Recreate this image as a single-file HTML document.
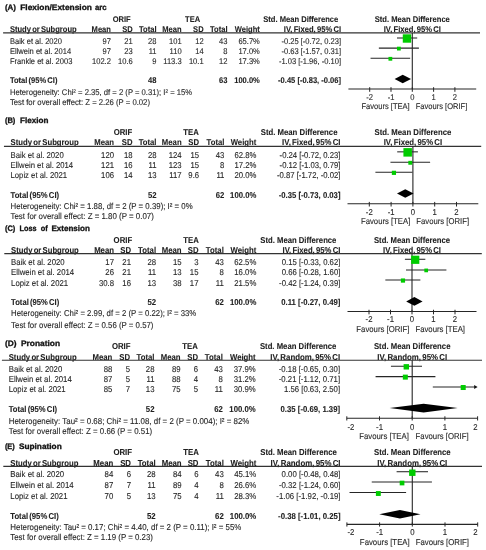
<!DOCTYPE html>
<html lang="en">
<head>
<meta charset="utf-8">
<title>Forest plots: ORIF vs TEA</title>
<style>
html,body{margin:0;padding:0;background:#fff;}
body{width:486px;height:550px;overflow:hidden;}
svg{display:block;font-size:7.55px;}
text{font-family:"Liberation Sans",Arial,Helvetica,sans-serif;fill:#1c1c1c;white-space:pre;text-rendering:geometricPrecision;}
text{fill:#262626;stroke:#262626;stroke-width:0.1px;paint-order:stroke;}
text.b{font-weight:bold;fill:#202020;stroke:#202020;stroke-width:0.08px;word-spacing:-0.9px;}
text.n{word-spacing:0;}
text.t{font-weight:bold;fill:#111;stroke:#111;stroke-width:0.3px;paint-order:stroke;}
</style>
</head>
<body>
<svg width="486" height="550" viewBox="0 0 486 550">
<rect x="0" y="0" width="486" height="550" fill="#ffffff"/>
<g style="font-size:7.55px">
<text y="9.60" class="t" style="font-size:7.9px"><tspan x="4.90" textLength="11.1" lengthAdjust="spacingAndGlyphs">(A)</tspan> <tspan x="20.20" textLength="71.7" lengthAdjust="spacingAndGlyphs">Flexion/Extension</tspan> <tspan x="95.00" textLength="11.7" lengthAdjust="spacingAndGlyphs">arc</tspan></text>
<text transform="matrix(1 0 0 1.1 121.70 21.90)" text-anchor="middle" class="b">ORIF</text>
<text transform="matrix(1 0 0 1.1 192.60 21.90)" text-anchor="middle" class="b">TEA</text>
<text transform="matrix(1 0 0 1.1 263.20 21.90)" class="b n" textLength="75.1" lengthAdjust="spacingAndGlyphs">Std. Mean Difference</text>
<text transform="matrix(1 0 0 1.1 412.30 21.90)" text-anchor="middle" class="b n" textLength="75.1" lengthAdjust="spacingAndGlyphs">Std. Mean Difference</text>
<text transform="matrix(1 0 0 1.1 9.90 32.00)" class="b" textLength="66.8" lengthAdjust="spacingAndGlyphs">Study or Subgroup</text>
<text transform="matrix(1 0 0 1.1 110.90 32.00)" text-anchor="end" class="b">Mean</text>
<text transform="matrix(1 0 0 1.1 132.70 32.00)" text-anchor="end" class="b">SD</text>
<text transform="matrix(1 0 0 1.1 156.50 32.00)" text-anchor="end" class="b">Total</text>
<text transform="matrix(1 0 0 1.1 181.60 32.00)" text-anchor="end" class="b">Mean</text>
<text transform="matrix(1 0 0 1.1 203.60 32.00)" text-anchor="end" class="b">SD</text>
<text transform="matrix(1 0 0 1.1 227.50 32.00)" text-anchor="end" class="b">Total</text>
<text transform="matrix(1 0 0 1.1 259.80 32.00)" text-anchor="end" class="b">Weight</text>
<text transform="matrix(1 0 0 1.1 341.00 32.00)" text-anchor="end" class="b" textLength="57.2" lengthAdjust="spacingAndGlyphs">IV, Fixed, 95% CI</text>
<text transform="matrix(1 0 0 1.1 412.30 32.00)" text-anchor="middle" class="b" textLength="57.2" lengthAdjust="spacingAndGlyphs">IV, Fixed, 95% CI</text>
<line x1="3.10" y1="32.90" x2="480.00" y2="32.90" stroke="#333" stroke-width="1.1"/>
<line x1="412.30" y1="32.90" x2="412.30" y2="89.00" stroke="#262626" stroke-width="1.1"/>
<text transform="matrix(1 0 0 1.1 9.90 43.50)">Baik et al. 2020</text>
<text transform="matrix(1 0 0 1.1 110.90 43.50)" text-anchor="end">97</text>
<text transform="matrix(1 0 0 1.1 132.70 43.50)" text-anchor="end">21</text>
<text transform="matrix(1 0 0 1.1 156.50 43.50)" text-anchor="end">28</text>
<text transform="matrix(1 0 0 1.1 181.60 43.50)" text-anchor="end">101</text>
<text transform="matrix(1 0 0 1.1 203.60 43.50)" text-anchor="end">12</text>
<text transform="matrix(1 0 0 1.1 227.50 43.50)" text-anchor="end">43</text>
<text transform="matrix(1 0 0 1.1 259.80 43.50)" text-anchor="end">65.7%</text>
<text transform="matrix(1 0 0 1.1 341.00 43.50)" text-anchor="end">-0.25 [-0.72, 0.23]</text>
<line x1="396.96" y1="38.00" x2="417.20" y2="38.00" stroke="#262626" stroke-width="1.05"/>
<rect x="402.78" y="34.30" width="8.4" height="8.4" fill="#00cc00"/>
<text transform="matrix(1 0 0 1.1 9.90 54.10)">Ellwein et al. 2014</text>
<text transform="matrix(1 0 0 1.1 110.90 54.10)" text-anchor="end">97</text>
<text transform="matrix(1 0 0 1.1 132.70 54.10)" text-anchor="end">23</text>
<text transform="matrix(1 0 0 1.1 156.50 54.10)" text-anchor="end">11</text>
<text transform="matrix(1 0 0 1.1 181.60 54.10)" text-anchor="end">110</text>
<text transform="matrix(1 0 0 1.1 203.60 54.10)" text-anchor="end">14</text>
<text transform="matrix(1 0 0 1.1 227.50 54.10)" text-anchor="end">8</text>
<text transform="matrix(1 0 0 1.1 259.80 54.10)" text-anchor="end">17.0%</text>
<text transform="matrix(1 0 0 1.1 341.00 54.10)" text-anchor="end">-0.63 [-1.57, 0.31]</text>
<line x1="378.86" y1="48.10" x2="418.90" y2="48.10" stroke="#262626" stroke-width="1.05"/>
<rect x="396.98" y="46.70" width="3.8" height="3.8" fill="#00cc00"/>
<text transform="matrix(1 0 0 1.1 9.90 64.30)">Frankle et al. 2003</text>
<text transform="matrix(1 0 0 1.1 110.90 64.30)" text-anchor="end">102.2</text>
<text transform="matrix(1 0 0 1.1 132.70 64.30)" text-anchor="end">10.6</text>
<text transform="matrix(1 0 0 1.1 156.50 64.30)" text-anchor="end">9</text>
<text transform="matrix(1 0 0 1.1 181.60 64.30)" text-anchor="end">113.3</text>
<text transform="matrix(1 0 0 1.1 203.60 64.30)" text-anchor="end">10.1</text>
<text transform="matrix(1 0 0 1.1 227.50 64.30)" text-anchor="end">12</text>
<text transform="matrix(1 0 0 1.1 259.80 64.30)" text-anchor="end">17.3%</text>
<text transform="matrix(1 0 0 1.1 341.00 64.30)" text-anchor="end">-1.03 [-1.96, -0.10]</text>
<line x1="370.55" y1="58.30" x2="410.17" y2="58.30" stroke="#262626" stroke-width="1.05"/>
<rect x="388.46" y="56.90" width="3.8" height="3.8" fill="#00cc00"/>
<text transform="matrix(1 0 0 1.1 9.90 83.20)" class="b" textLength="47.5" lengthAdjust="spacingAndGlyphs">Total (95% CI)</text>
<text transform="matrix(1 0 0 1.1 156.50 83.20)" text-anchor="end" class="b n">48</text>
<text transform="matrix(1 0 0 1.1 227.50 83.20)" text-anchor="end" class="b n">63</text>
<text transform="matrix(1 0 0 1.1 259.80 83.20)" text-anchor="end" class="b n">100.0%</text>
<text transform="matrix(1 0 0 1.1 341.00 83.20)" text-anchor="end" class="b n">-0.45 [-0.83, -0.06]</text>
<text transform="matrix(1 0 0 1.1 9.90 94.60)" textLength="182.2" lengthAdjust="spacingAndGlyphs">Heterogeneity: Chi² = 2.35, df = 2 (P = 0.31); I² = 15%</text>
<text transform="matrix(1 0 0 1.1 9.90 105.40)" textLength="140.1" lengthAdjust="spacingAndGlyphs">Test for overall effect: Z = 2.26 (P = 0.02)</text>
<polygon points="394.62,79.00 402.72,74.70 411.02,79.00 402.72,83.30" fill="#000"/>
<line x1="348.40" y1="89.00" x2="476.20" y2="89.00" stroke="#262626" stroke-width="1.05"/>
<line x1="369.70" y1="87.20" x2="369.70" y2="91.80" stroke="#262626" stroke-width="1.0"/>
<text transform="matrix(1 0 0 1.1 369.70 99.80)" text-anchor="middle">-2</text>
<line x1="391.00" y1="87.20" x2="391.00" y2="91.80" stroke="#262626" stroke-width="1.0"/>
<text transform="matrix(1 0 0 1.1 391.00 99.80)" text-anchor="middle">-1</text>
<line x1="412.30" y1="87.20" x2="412.30" y2="91.80" stroke="#262626" stroke-width="1.0"/>
<text transform="matrix(1 0 0 1.1 412.30 99.80)" text-anchor="middle">0</text>
<line x1="433.60" y1="87.20" x2="433.60" y2="91.80" stroke="#262626" stroke-width="1.0"/>
<text transform="matrix(1 0 0 1.1 433.60 99.80)" text-anchor="middle">1</text>
<line x1="454.90" y1="87.20" x2="454.90" y2="91.80" stroke="#262626" stroke-width="1.0"/>
<text transform="matrix(1 0 0 1.1 454.90 99.80)" text-anchor="middle">2</text>
<text transform="matrix(1 0 0 1.1 409.70 108.70)" text-anchor="end">Favours [TEA]</text>
<text transform="matrix(1 0 0 1.1 415.70 108.70)">Favours [ORIF]</text>
</g>
<g style="font-size:7.724px">
<text y="122.70" class="t" style="font-size:7.9px"><tspan x="4.90" textLength="10.5" lengthAdjust="spacingAndGlyphs">(B)</tspan> <tspan x="20.00" textLength="28.4" lengthAdjust="spacingAndGlyphs">Flexion</tspan></text>
<text transform="matrix(1 0 0 1.1 122.90 134.70)" text-anchor="middle" class="b">ORIF</text>
<text transform="matrix(1 0 0 1.1 191.00 134.70)" text-anchor="middle" class="b">TEA</text>
<text transform="matrix(1 0 0 1.1 260.70 134.70)" class="b n" textLength="76.8" lengthAdjust="spacingAndGlyphs">Std. Mean Difference</text>
<text transform="matrix(1 0 0 1.1 412.90 134.70)" text-anchor="middle" class="b n" textLength="76.8" lengthAdjust="spacingAndGlyphs">Std. Mean Difference</text>
<text transform="matrix(1 0 0 1.1 10.50 145.40)" class="b" textLength="68.3" lengthAdjust="spacingAndGlyphs">Study or Subgroup</text>
<text transform="matrix(1 0 0 1.1 114.00 145.40)" text-anchor="end" class="b">Mean</text>
<text transform="matrix(1 0 0 1.1 132.50 145.40)" text-anchor="end" class="b">SD</text>
<text transform="matrix(1 0 0 1.1 156.50 145.40)" text-anchor="end" class="b">Total</text>
<text transform="matrix(1 0 0 1.1 181.60 145.40)" text-anchor="end" class="b">Mean</text>
<text transform="matrix(1 0 0 1.1 199.10 145.40)" text-anchor="end" class="b">SD</text>
<text transform="matrix(1 0 0 1.1 224.40 145.40)" text-anchor="end" class="b">Total</text>
<text transform="matrix(1 0 0 1.1 256.30 145.40)" text-anchor="end" class="b">Weight</text>
<text transform="matrix(1 0 0 1.1 340.50 145.40)" text-anchor="end" class="b" textLength="58.5" lengthAdjust="spacingAndGlyphs">IV, Fixed, 95% CI</text>
<text transform="matrix(1 0 0 1.1 412.90 145.40)" text-anchor="middle" class="b" textLength="58.5" lengthAdjust="spacingAndGlyphs">IV, Fixed, 95% CI</text>
<line x1="3.95" y1="146.40" x2="481.20" y2="146.40" stroke="#333" stroke-width="1.1"/>
<line x1="412.90" y1="146.40" x2="412.90" y2="203.72" stroke="#262626" stroke-width="1.1"/>
<text transform="matrix(1 0 0 1.1 10.50 157.50)">Baik et al. 2020</text>
<text transform="matrix(1 0 0 1.1 114.00 157.50)" text-anchor="end">120</text>
<text transform="matrix(1 0 0 1.1 132.50 157.50)" text-anchor="end">18</text>
<text transform="matrix(1 0 0 1.1 156.50 157.50)" text-anchor="end">28</text>
<text transform="matrix(1 0 0 1.1 181.60 157.50)" text-anchor="end">124</text>
<text transform="matrix(1 0 0 1.1 199.10 157.50)" text-anchor="end">15</text>
<text transform="matrix(1 0 0 1.1 224.40 157.50)" text-anchor="end">43</text>
<text transform="matrix(1 0 0 1.1 256.30 157.50)" text-anchor="end">62.8%</text>
<text transform="matrix(1 0 0 1.1 340.50 157.50)" text-anchor="end">-0.24 [-0.72, 0.23]</text>
<line x1="397.20" y1="151.85" x2="417.91" y2="151.85" stroke="#262626" stroke-width="1.05"/>
<rect x="403.42" y="148.10" width="8.5" height="8.5" fill="#00cc00"/>
<text transform="matrix(1 0 0 1.1 10.50 168.00)">Ellwein et al. 2014</text>
<text transform="matrix(1 0 0 1.1 114.00 168.00)" text-anchor="end">121</text>
<text transform="matrix(1 0 0 1.1 132.50 168.00)" text-anchor="end">16</text>
<text transform="matrix(1 0 0 1.1 156.50 168.00)" text-anchor="end">11</text>
<text transform="matrix(1 0 0 1.1 181.60 168.00)" text-anchor="end">123</text>
<text transform="matrix(1 0 0 1.1 199.10 168.00)" text-anchor="end">15</text>
<text transform="matrix(1 0 0 1.1 224.40 168.00)" text-anchor="end">8</text>
<text transform="matrix(1 0 0 1.1 256.30 168.00)" text-anchor="end">17.2%</text>
<text transform="matrix(1 0 0 1.1 340.50 168.00)" text-anchor="end">-0.12 [-1.03, 0.79]</text>
<line x1="390.45" y1="162.28" x2="430.12" y2="162.28" stroke="#262626" stroke-width="1.05"/>
<rect x="408.33" y="160.83" width="3.9" height="3.9" fill="#00cc00"/>
<text transform="matrix(1 0 0 1.1 10.50 178.30)">Lopiz et al. 2021</text>
<text transform="matrix(1 0 0 1.1 114.00 178.30)" text-anchor="end">106</text>
<text transform="matrix(1 0 0 1.1 132.50 178.30)" text-anchor="end">14</text>
<text transform="matrix(1 0 0 1.1 156.50 178.30)" text-anchor="end">13</text>
<text transform="matrix(1 0 0 1.1 181.60 178.30)" text-anchor="end">117</text>
<text transform="matrix(1 0 0 1.1 199.10 178.30)" text-anchor="end">9.6</text>
<text transform="matrix(1 0 0 1.1 224.40 178.30)" text-anchor="end">11</text>
<text transform="matrix(1 0 0 1.1 256.30 178.30)" text-anchor="end">20.0%</text>
<text transform="matrix(1 0 0 1.1 340.50 178.30)" text-anchor="end">-0.87 [-1.72, -0.02]</text>
<line x1="375.40" y1="172.32" x2="412.46" y2="172.32" stroke="#262626" stroke-width="1.05"/>
<rect x="391.83" y="170.72" width="4.2" height="4.2" fill="#00cc00"/>
<text transform="matrix(1 0 0 1.1 10.50 198.10)" class="b" textLength="48.6" lengthAdjust="spacingAndGlyphs">Total (95% CI)</text>
<text transform="matrix(1 0 0 1.1 156.50 198.10)" text-anchor="end" class="b n">52</text>
<text transform="matrix(1 0 0 1.1 224.40 198.10)" text-anchor="end" class="b n">62</text>
<text transform="matrix(1 0 0 1.1 256.30 198.10)" text-anchor="end" class="b n">100.0%</text>
<text transform="matrix(1 0 0 1.1 340.50 198.10)" text-anchor="end" class="b n">-0.35 [-0.73, 0.03]</text>
<text transform="matrix(1 0 0 1.1 10.50 209.20)" textLength="182.2" lengthAdjust="spacingAndGlyphs">Heterogeneity: Chi² = 1.88, df = 2 (P = 0.39); I² = 0%</text>
<text transform="matrix(1 0 0 1.1 10.50 219.30)" textLength="143.3" lengthAdjust="spacingAndGlyphs">Test for overall effect: Z = 1.80 (P = 0.07)</text>
<polygon points="396.99,193.49 405.27,189.19 413.55,193.49 405.27,197.79" fill="#000"/>
<line x1="347.50" y1="203.72" x2="478.30" y2="203.72" stroke="#262626" stroke-width="1.05"/>
<line x1="369.30" y1="201.92" x2="369.30" y2="206.52" stroke="#262626" stroke-width="1.0"/>
<text transform="matrix(1 0 0 1.1 369.30 214.77)" text-anchor="middle">-2</text>
<line x1="391.10" y1="201.92" x2="391.10" y2="206.52" stroke="#262626" stroke-width="1.0"/>
<text transform="matrix(1 0 0 1.1 391.10 214.77)" text-anchor="middle">-1</text>
<line x1="412.90" y1="201.92" x2="412.90" y2="206.52" stroke="#262626" stroke-width="1.0"/>
<text transform="matrix(1 0 0 1.1 412.90 214.77)" text-anchor="middle">0</text>
<line x1="434.70" y1="201.92" x2="434.70" y2="206.52" stroke="#262626" stroke-width="1.0"/>
<text transform="matrix(1 0 0 1.1 434.70 214.77)" text-anchor="middle">1</text>
<line x1="456.50" y1="201.92" x2="456.50" y2="206.52" stroke="#262626" stroke-width="1.0"/>
<text transform="matrix(1 0 0 1.1 456.50 214.77)" text-anchor="middle">2</text>
<text transform="matrix(1 0 0 1.1 410.30 223.88)" text-anchor="end">Favours [TEA]</text>
<text transform="matrix(1 0 0 1.1 416.30 223.88)">Favours [ORIF]</text>
</g>
<g style="font-size:7.777px">
<text y="231.40" class="t" style="font-size:7.9px"><tspan x="4.90" textLength="10.5" lengthAdjust="spacingAndGlyphs">(C)</tspan> <tspan x="19.60" textLength="17.0" lengthAdjust="spacingAndGlyphs">Loss</tspan> <tspan x="40.70" textLength="7.0" lengthAdjust="spacingAndGlyphs">of</tspan> <tspan x="51.40" textLength="38.5" lengthAdjust="spacingAndGlyphs">Extension</tspan></text>
<text transform="matrix(1 0 0 1.1 122.90 242.90)" text-anchor="middle" class="b">ORIF</text>
<text transform="matrix(1 0 0 1.1 191.00 242.90)" text-anchor="middle" class="b">TEA</text>
<text transform="matrix(1 0 0 1.1 260.30 242.90)" class="b n" textLength="76.1" lengthAdjust="spacingAndGlyphs">Std. Mean Difference</text>
<text transform="matrix(1 0 0 1.1 412.00 242.90)" text-anchor="middle" class="b n" textLength="76.1" lengthAdjust="spacingAndGlyphs">Std. Mean Difference</text>
<text transform="matrix(1 0 0 1.1 11.10 253.20)" class="b" textLength="67.7" lengthAdjust="spacingAndGlyphs">Study or Subgroup</text>
<text transform="matrix(1 0 0 1.1 114.00 253.20)" text-anchor="end" class="b">Mean</text>
<text transform="matrix(1 0 0 1.1 131.00 253.20)" text-anchor="end" class="b">SD</text>
<text transform="matrix(1 0 0 1.1 156.10 253.20)" text-anchor="end" class="b">Total</text>
<text transform="matrix(1 0 0 1.1 181.60 253.20)" text-anchor="end" class="b">Mean</text>
<text transform="matrix(1 0 0 1.1 198.50 253.20)" text-anchor="end" class="b">SD</text>
<text transform="matrix(1 0 0 1.1 223.80 253.20)" text-anchor="end" class="b">Total</text>
<text transform="matrix(1 0 0 1.1 256.30 253.20)" text-anchor="end" class="b">Weight</text>
<text transform="matrix(1 0 0 1.1 340.40 253.20)" text-anchor="end" class="b" textLength="57.9" lengthAdjust="spacingAndGlyphs">IV, Fixed, 95% CI</text>
<text transform="matrix(1 0 0 1.1 412.00 253.20)" text-anchor="middle" class="b" textLength="57.9" lengthAdjust="spacingAndGlyphs">IV, Fixed, 95% CI</text>
<line x1="4.30" y1="253.60" x2="481.80" y2="253.60" stroke="#333" stroke-width="1.1"/>
<line x1="412.00" y1="253.60" x2="412.00" y2="311.55" stroke="#262626" stroke-width="1.1"/>
<text transform="matrix(1 0 0 1.1 11.10 264.50)">Baik et al. 2020</text>
<text transform="matrix(1 0 0 1.1 114.00 264.50)" text-anchor="end">17</text>
<text transform="matrix(1 0 0 1.1 131.00 264.50)" text-anchor="end">21</text>
<text transform="matrix(1 0 0 1.1 156.10 264.50)" text-anchor="end">28</text>
<text transform="matrix(1 0 0 1.1 181.60 264.50)" text-anchor="end">15</text>
<text transform="matrix(1 0 0 1.1 198.50 264.50)" text-anchor="end">3</text>
<text transform="matrix(1 0 0 1.1 223.80 264.50)" text-anchor="end">43</text>
<text transform="matrix(1 0 0 1.1 256.30 264.50)" text-anchor="end">62.5%</text>
<text transform="matrix(1 0 0 1.1 340.40 264.50)" text-anchor="end">0.15 [-0.33, 0.62]</text>
<line x1="404.90" y1="259.28" x2="425.33" y2="259.28" stroke="#262626" stroke-width="1.05"/>
<rect x="411.12" y="255.68" width="8.2" height="8.2" fill="#00cc00"/>
<text transform="matrix(1 0 0 1.1 11.10 275.00)">Ellwein et al. 2014</text>
<text transform="matrix(1 0 0 1.1 114.00 275.00)" text-anchor="end">26</text>
<text transform="matrix(1 0 0 1.1 131.00 275.00)" text-anchor="end">21</text>
<text transform="matrix(1 0 0 1.1 156.10 275.00)" text-anchor="end">11</text>
<text transform="matrix(1 0 0 1.1 181.60 275.00)" text-anchor="end">13</text>
<text transform="matrix(1 0 0 1.1 198.50 275.00)" text-anchor="end">15</text>
<text transform="matrix(1 0 0 1.1 223.80 275.00)" text-anchor="end">8</text>
<text transform="matrix(1 0 0 1.1 256.30 275.00)" text-anchor="end">16.0%</text>
<text transform="matrix(1 0 0 1.1 340.40 275.00)" text-anchor="end">0.66 [-0.28, 1.60]</text>
<line x1="405.98" y1="269.92" x2="446.40" y2="269.92" stroke="#262626" stroke-width="1.05"/>
<rect x="424.34" y="268.57" width="3.7" height="3.7" fill="#00cc00"/>
<text transform="matrix(1 0 0 1.1 11.10 285.70)">Lopiz et al. 2021</text>
<text transform="matrix(1 0 0 1.1 114.00 285.70)" text-anchor="end">30.8</text>
<text transform="matrix(1 0 0 1.1 131.00 285.70)" text-anchor="end">16</text>
<text transform="matrix(1 0 0 1.1 156.10 285.70)" text-anchor="end">13</text>
<text transform="matrix(1 0 0 1.1 181.60 285.70)" text-anchor="end">38</text>
<text transform="matrix(1 0 0 1.1 198.50 285.70)" text-anchor="end">17</text>
<text transform="matrix(1 0 0 1.1 223.80 285.70)" text-anchor="end">11</text>
<text transform="matrix(1 0 0 1.1 256.30 285.70)" text-anchor="end">21.5%</text>
<text transform="matrix(1 0 0 1.1 340.40 285.70)" text-anchor="end">-0.42 [-1.24, 0.39]</text>
<line x1="385.34" y1="280.05" x2="420.38" y2="280.05" stroke="#262626" stroke-width="1.05"/>
<rect x="400.87" y="278.45" width="4.2" height="4.2" fill="#00cc00"/>
<text transform="matrix(1 0 0 1.1 11.10 304.80)" class="b" textLength="48.1" lengthAdjust="spacingAndGlyphs">Total (95% CI)</text>
<text transform="matrix(1 0 0 1.1 156.10 304.80)" text-anchor="end" class="b n">52</text>
<text transform="matrix(1 0 0 1.1 223.80 304.80)" text-anchor="end" class="b n">62</text>
<text transform="matrix(1 0 0 1.1 256.30 304.80)" text-anchor="end" class="b n">100.0%</text>
<text transform="matrix(1 0 0 1.1 340.40 304.80)" text-anchor="end" class="b n">0.11 [-0.27, 0.49]</text>
<text transform="matrix(1 0 0 1.1 11.10 316.30)" textLength="185.2" lengthAdjust="spacingAndGlyphs">Heterogeneity: Chi² = 2.99, df = 2 (P = 0.22); I² = 33%</text>
<text transform="matrix(1 0 0 1.1 11.10 327.60)" textLength="142.4" lengthAdjust="spacingAndGlyphs">Test for overall effect: Z = 0.56 (P = 0.57)</text>
<polygon points="406.19,301.42 414.37,297.12 422.54,301.42 414.37,305.72" fill="#000"/>
<line x1="347.50" y1="311.55" x2="476.50" y2="311.55" stroke="#262626" stroke-width="1.05"/>
<line x1="369.00" y1="309.75" x2="369.00" y2="314.35" stroke="#262626" stroke-width="1.0"/>
<text transform="matrix(1 0 0 1.1 369.00 322.49)" text-anchor="middle">-2</text>
<line x1="390.50" y1="309.75" x2="390.50" y2="314.35" stroke="#262626" stroke-width="1.0"/>
<text transform="matrix(1 0 0 1.1 390.50 322.49)" text-anchor="middle">-1</text>
<line x1="412.00" y1="309.75" x2="412.00" y2="314.35" stroke="#262626" stroke-width="1.0"/>
<text transform="matrix(1 0 0 1.1 412.00 322.49)" text-anchor="middle">0</text>
<line x1="433.50" y1="309.75" x2="433.50" y2="314.35" stroke="#262626" stroke-width="1.0"/>
<text transform="matrix(1 0 0 1.1 433.50 322.49)" text-anchor="middle">1</text>
<line x1="455.00" y1="309.75" x2="455.00" y2="314.35" stroke="#262626" stroke-width="1.0"/>
<text transform="matrix(1 0 0 1.1 455.00 322.49)" text-anchor="middle">2</text>
<text transform="matrix(1 0 0 1.1 409.40 331.50)" text-anchor="end">Favours [ORIF]</text>
<text transform="matrix(1 0 0 1.1 415.40 331.50)">Favours [TEA]</text>
</g>
<g style="font-size:7.777px">
<text y="346.20" class="t" style="font-size:7.9px"><tspan x="4.90" textLength="11.6" lengthAdjust="spacingAndGlyphs">(D)</tspan> <tspan x="21.00" textLength="39.1" lengthAdjust="spacingAndGlyphs">Pronation</tspan></text>
<text transform="matrix(1 0 0 1.1 121.20 348.70)" text-anchor="middle" class="b">ORIF</text>
<text transform="matrix(1 0 0 1.1 190.00 348.70)" text-anchor="middle" class="b">TEA</text>
<text transform="matrix(1 0 0 1.1 259.90 348.70)" class="b n" textLength="76.5" lengthAdjust="spacingAndGlyphs">Std. Mean Difference</text>
<text transform="matrix(1 0 0 1.1 412.20 348.70)" text-anchor="middle" class="b n" textLength="76.5" lengthAdjust="spacingAndGlyphs">Std. Mean Difference</text>
<text transform="matrix(1 0 0 1.1 8.70 359.70)" class="b" textLength="68.1" lengthAdjust="spacingAndGlyphs">Study or Subgroup</text>
<text transform="matrix(1 0 0 1.1 112.30 359.70)" text-anchor="end" class="b">Mean</text>
<text transform="matrix(1 0 0 1.1 130.00 359.70)" text-anchor="end" class="b">SD</text>
<text transform="matrix(1 0 0 1.1 154.50 359.70)" text-anchor="end" class="b">Total</text>
<text transform="matrix(1 0 0 1.1 180.60 359.70)" text-anchor="end" class="b">Mean</text>
<text transform="matrix(1 0 0 1.1 198.10 359.70)" text-anchor="end" class="b">SD</text>
<text transform="matrix(1 0 0 1.1 222.80 359.70)" text-anchor="end" class="b">Total</text>
<text transform="matrix(1 0 0 1.1 255.70 359.70)" text-anchor="end" class="b">Weight</text>
<text transform="matrix(1 0 0 1.1 340.10 359.70)" text-anchor="end" class="b" textLength="69.9" lengthAdjust="spacingAndGlyphs">IV, Random, 95% CI</text>
<text transform="matrix(1 0 0 1.1 412.20 359.70)" text-anchor="middle" class="b" textLength="69.9" lengthAdjust="spacingAndGlyphs">IV, Random, 95% CI</text>
<line x1="1.90" y1="360.30" x2="482.00" y2="360.30" stroke="#333" stroke-width="1.1"/>
<line x1="412.20" y1="360.30" x2="412.20" y2="418.29" stroke="#262626" stroke-width="1.1"/>
<text transform="matrix(1 0 0 1.1 8.70 371.50)">Baik et al. 2020</text>
<text transform="matrix(1 0 0 1.1 112.30 371.50)" text-anchor="end">88</text>
<text transform="matrix(1 0 0 1.1 130.00 371.50)" text-anchor="end">5</text>
<text transform="matrix(1 0 0 1.1 154.50 371.50)" text-anchor="end">28</text>
<text transform="matrix(1 0 0 1.1 180.60 371.50)" text-anchor="end">89</text>
<text transform="matrix(1 0 0 1.1 198.10 371.50)" text-anchor="end">6</text>
<text transform="matrix(1 0 0 1.1 222.80 371.50)" text-anchor="end">43</text>
<text transform="matrix(1 0 0 1.1 255.70 371.50)" text-anchor="end">37.9%</text>
<text transform="matrix(1 0 0 1.1 340.10 371.50)" text-anchor="end">-0.18 [-0.65, 0.30]</text>
<line x1="390.94" y1="366.32" x2="422.01" y2="366.32" stroke="#262626" stroke-width="1.05"/>
<rect x="403.61" y="364.12" width="5.4" height="5.4" fill="#00cc00"/>
<text transform="matrix(1 0 0 1.1 8.70 382.00)">Ellwein et al. 2014</text>
<text transform="matrix(1 0 0 1.1 112.30 382.00)" text-anchor="end">87</text>
<text transform="matrix(1 0 0 1.1 130.00 382.00)" text-anchor="end">5</text>
<text transform="matrix(1 0 0 1.1 154.50 382.00)" text-anchor="end">11</text>
<text transform="matrix(1 0 0 1.1 180.60 382.00)" text-anchor="end">88</text>
<text transform="matrix(1 0 0 1.1 198.10 382.00)" text-anchor="end">4</text>
<text transform="matrix(1 0 0 1.1 222.80 382.00)" text-anchor="end">8</text>
<text transform="matrix(1 0 0 1.1 255.70 382.00)" text-anchor="end">31.2%</text>
<text transform="matrix(1 0 0 1.1 340.10 382.00)" text-anchor="end">-0.21 [-1.12, 0.71]</text>
<line x1="375.58" y1="376.62" x2="435.42" y2="376.62" stroke="#262626" stroke-width="1.05"/>
<rect x="402.83" y="374.62" width="5.0" height="5.0" fill="#00cc00"/>
<text transform="matrix(1 0 0 1.1 8.70 392.40)">Lopiz et al. 2021</text>
<text transform="matrix(1 0 0 1.1 112.30 392.40)" text-anchor="end">85</text>
<text transform="matrix(1 0 0 1.1 130.00 392.40)" text-anchor="end">7</text>
<text transform="matrix(1 0 0 1.1 154.50 392.40)" text-anchor="end">13</text>
<text transform="matrix(1 0 0 1.1 180.60 392.40)" text-anchor="end">75</text>
<text transform="matrix(1 0 0 1.1 198.10 392.40)" text-anchor="end">5</text>
<text transform="matrix(1 0 0 1.1 222.80 392.40)" text-anchor="end">11</text>
<text transform="matrix(1 0 0 1.1 255.70 392.40)" text-anchor="end">30.9%</text>
<text transform="matrix(1 0 0 1.1 340.10 392.40)" text-anchor="end">1.56 [0.63, 2.50]</text>
<line x1="432.80" y1="387.01" x2="476.10" y2="387.01" stroke="#262626" stroke-width="1.05"/>
<polygon points="477.60,387.01 474.20,384.91 474.20,389.11" fill="#111"/>
<rect x="460.71" y="385.01" width="5.0" height="5.0" fill="#00cc00"/>
<text transform="matrix(1 0 0 1.1 8.70 411.90)" class="b" textLength="48.4" lengthAdjust="spacingAndGlyphs">Total (95% CI)</text>
<text transform="matrix(1 0 0 1.1 154.50 411.90)" text-anchor="end" class="b n">52</text>
<text transform="matrix(1 0 0 1.1 222.80 411.90)" text-anchor="end" class="b n">62</text>
<text transform="matrix(1 0 0 1.1 255.70 411.90)" text-anchor="end" class="b n">100.0%</text>
<text transform="matrix(1 0 0 1.1 340.10 411.90)" text-anchor="end" class="b n">0.35 [-0.69, 1.39]</text>
<text transform="matrix(1 0 0 1.1 8.70 424.00)" textLength="240.7" lengthAdjust="spacingAndGlyphs">Heterogeneity: Tau² = 0.68; Chi² = 11.08, df = 2 (P = 0.004); I² = 82%</text>
<text transform="matrix(1 0 0 1.1 8.70 434.00)" textLength="143.5" lengthAdjust="spacingAndGlyphs">Test for overall effect: Z = 0.66 (P = 0.51)</text>
<polygon points="389.64,408.10 423.64,403.80 457.65,408.10 423.64,412.40" fill="#000"/>
<line x1="346.80" y1="418.29" x2="477.60" y2="418.29" stroke="#262626" stroke-width="1.05"/>
<line x1="346.80" y1="416.29" x2="346.80" y2="420.49" stroke="#262626" stroke-width="1.0"/>
<text transform="matrix(1 0 0 1.1 347.40 430.10)">-2</text>
<line x1="379.50" y1="416.29" x2="379.50" y2="420.49" stroke="#262626" stroke-width="1.0"/>
<text transform="matrix(1 0 0 1.1 379.50 430.10)" text-anchor="middle">-1</text>
<line x1="412.20" y1="416.29" x2="412.20" y2="420.49" stroke="#262626" stroke-width="1.0"/>
<text transform="matrix(1 0 0 1.1 412.20 430.10)" text-anchor="middle">0</text>
<line x1="444.90" y1="416.29" x2="444.90" y2="420.49" stroke="#262626" stroke-width="1.0"/>
<text transform="matrix(1 0 0 1.1 444.90 430.10)" text-anchor="middle">1</text>
<line x1="477.60" y1="416.29" x2="477.60" y2="420.49" stroke="#262626" stroke-width="1.0"/>
<text transform="matrix(1 0 0 1.1 477.60 430.10)" text-anchor="end">2</text>
<text transform="matrix(1 0 0 1.1 408.90 439.17)" text-anchor="end">Favours [TEA]</text>
<text transform="matrix(1 0 0 1.1 415.60 439.17)">Favours [ORIF]</text>
</g>
<g style="font-size:7.814px">
<text y="448.60" class="t" style="font-size:7.9px"><tspan x="4.90" textLength="9.9" lengthAdjust="spacingAndGlyphs">(E)</tspan> <tspan x="18.90" textLength="42.8" lengthAdjust="spacingAndGlyphs">Supination</tspan></text>
<text transform="matrix(1 0 0 1.1 122.70 454.70)" text-anchor="middle" class="b">ORIF</text>
<text transform="matrix(1 0 0 1.1 191.00 454.70)" text-anchor="middle" class="b">TEA</text>
<text transform="matrix(1 0 0 1.1 260.30 454.70)" class="b n" textLength="76.5" lengthAdjust="spacingAndGlyphs">Std. Mean Difference</text>
<text transform="matrix(1 0 0 1.1 412.30 454.70)" text-anchor="middle" class="b n" textLength="76.5" lengthAdjust="spacingAndGlyphs">Std. Mean Difference</text>
<text transform="matrix(1 0 0 1.1 10.30 465.80)" class="b" textLength="68.1" lengthAdjust="spacingAndGlyphs">Study or Subgroup</text>
<text transform="matrix(1 0 0 1.1 113.30 465.80)" text-anchor="end" class="b">Mean</text>
<text transform="matrix(1 0 0 1.1 131.00 465.80)" text-anchor="end" class="b">SD</text>
<text transform="matrix(1 0 0 1.1 155.70 465.80)" text-anchor="end" class="b">Total</text>
<text transform="matrix(1 0 0 1.1 181.60 465.80)" text-anchor="end" class="b">Mean</text>
<text transform="matrix(1 0 0 1.1 198.50 465.80)" text-anchor="end" class="b">SD</text>
<text transform="matrix(1 0 0 1.1 223.80 465.80)" text-anchor="end" class="b">Total</text>
<text transform="matrix(1 0 0 1.1 256.30 465.80)" text-anchor="end" class="b">Weight</text>
<text transform="matrix(1 0 0 1.1 340.50 465.80)" text-anchor="end" class="b" textLength="69.9" lengthAdjust="spacingAndGlyphs">IV, Random, 95% CI</text>
<text transform="matrix(1 0 0 1.1 412.30 465.80)" text-anchor="middle" class="b" textLength="69.9" lengthAdjust="spacingAndGlyphs">IV, Random, 95% CI</text>
<line x1="3.30" y1="466.40" x2="482.00" y2="466.40" stroke="#333" stroke-width="1.1"/>
<line x1="412.30" y1="466.40" x2="412.30" y2="524.39" stroke="#262626" stroke-width="1.1"/>
<text transform="matrix(1 0 0 1.1 10.30 477.40)">Baik et al. 2020</text>
<text transform="matrix(1 0 0 1.1 113.30 477.40)" text-anchor="end">84</text>
<text transform="matrix(1 0 0 1.1 131.00 477.40)" text-anchor="end">6</text>
<text transform="matrix(1 0 0 1.1 155.70 477.40)" text-anchor="end">28</text>
<text transform="matrix(1 0 0 1.1 181.60 477.40)" text-anchor="end">84</text>
<text transform="matrix(1 0 0 1.1 198.50 477.40)" text-anchor="end">6</text>
<text transform="matrix(1 0 0 1.1 223.80 477.40)" text-anchor="end">43</text>
<text transform="matrix(1 0 0 1.1 256.30 477.40)" text-anchor="end">45.1%</text>
<text transform="matrix(1 0 0 1.1 340.50 477.40)" text-anchor="end">0.00 [-0.48, 0.48]</text>
<line x1="396.60" y1="471.72" x2="428.00" y2="471.72" stroke="#262626" stroke-width="1.05"/>
<rect x="409.10" y="469.52" width="6.4" height="6.4" fill="#00cc00"/>
<text transform="matrix(1 0 0 1.1 10.30 488.00)">Ellwein et al. 2014</text>
<text transform="matrix(1 0 0 1.1 113.30 488.00)" text-anchor="end">87</text>
<text transform="matrix(1 0 0 1.1 131.00 488.00)" text-anchor="end">7</text>
<text transform="matrix(1 0 0 1.1 155.70 488.00)" text-anchor="end">11</text>
<text transform="matrix(1 0 0 1.1 181.60 488.00)" text-anchor="end">89</text>
<text transform="matrix(1 0 0 1.1 198.50 488.00)" text-anchor="end">4</text>
<text transform="matrix(1 0 0 1.1 223.80 488.00)" text-anchor="end">8</text>
<text transform="matrix(1 0 0 1.1 256.30 488.00)" text-anchor="end">26.6%</text>
<text transform="matrix(1 0 0 1.1 340.50 488.00)" text-anchor="end">-0.32 [-1.24, 0.60]</text>
<line x1="371.75" y1="482.02" x2="431.92" y2="482.02" stroke="#262626" stroke-width="1.05"/>
<rect x="399.69" y="480.67" width="4.7" height="4.7" fill="#00cc00"/>
<text transform="matrix(1 0 0 1.1 10.30 498.50)">Lopiz et al. 2021</text>
<text transform="matrix(1 0 0 1.1 113.30 498.50)" text-anchor="end">70</text>
<text transform="matrix(1 0 0 1.1 131.00 498.50)" text-anchor="end">5</text>
<text transform="matrix(1 0 0 1.1 155.70 498.50)" text-anchor="end">13</text>
<text transform="matrix(1 0 0 1.1 181.60 498.50)" text-anchor="end">75</text>
<text transform="matrix(1 0 0 1.1 198.50 498.50)" text-anchor="end">4</text>
<text transform="matrix(1 0 0 1.1 223.80 498.50)" text-anchor="end">11</text>
<text transform="matrix(1 0 0 1.1 256.30 498.50)" text-anchor="end">28.3%</text>
<text transform="matrix(1 0 0 1.1 340.50 498.50)" text-anchor="end">-1.06 [-1.92, -0.19]</text>
<line x1="349.52" y1="492.51" x2="406.09" y2="492.51" stroke="#262626" stroke-width="1.05"/>
<rect x="375.89" y="491.06" width="4.9" height="4.9" fill="#00cc00"/>
<text transform="matrix(1 0 0 1.1 10.30 518.50)" class="b" textLength="48.4" lengthAdjust="spacingAndGlyphs">Total (95% CI)</text>
<text transform="matrix(1 0 0 1.1 155.70 518.50)" text-anchor="end" class="b n">52</text>
<text transform="matrix(1 0 0 1.1 223.80 518.50)" text-anchor="end" class="b n">62</text>
<text transform="matrix(1 0 0 1.1 256.30 518.50)" text-anchor="end" class="b n">100.0%</text>
<text transform="matrix(1 0 0 1.1 340.50 518.50)" text-anchor="end" class="b n">-0.38 [-1.01, 0.25]</text>
<text transform="matrix(1 0 0 1.1 10.30 529.80)" textLength="231.0" lengthAdjust="spacingAndGlyphs">Heterogeneity: Tau² = 0.17; Chi² = 4.40, df = 2 (P = 0.11); I² = 55%</text>
<text transform="matrix(1 0 0 1.1 10.30 540.20)" textLength="142.6" lengthAdjust="spacingAndGlyphs">Test for overall effect: Z = 1.19 (P = 0.23)</text>
<polygon points="379.27,514.20 399.87,509.90 420.48,514.20 399.87,518.50" fill="#000"/>
<line x1="346.90" y1="524.39" x2="477.70" y2="524.39" stroke="#262626" stroke-width="1.05"/>
<line x1="346.90" y1="522.39" x2="346.90" y2="526.59" stroke="#262626" stroke-width="1.0"/>
<text transform="matrix(1 0 0 1.1 347.50 535.40)">-2</text>
<line x1="379.60" y1="522.39" x2="379.60" y2="526.59" stroke="#262626" stroke-width="1.0"/>
<text transform="matrix(1 0 0 1.1 379.60 535.40)" text-anchor="middle">-1</text>
<line x1="412.30" y1="522.39" x2="412.30" y2="526.59" stroke="#262626" stroke-width="1.0"/>
<text transform="matrix(1 0 0 1.1 412.30 535.40)" text-anchor="middle">0</text>
<line x1="445.00" y1="522.39" x2="445.00" y2="526.59" stroke="#262626" stroke-width="1.0"/>
<text transform="matrix(1 0 0 1.1 445.00 535.40)" text-anchor="middle">1</text>
<line x1="477.70" y1="522.39" x2="477.70" y2="526.59" stroke="#262626" stroke-width="1.0"/>
<text transform="matrix(1 0 0 1.1 477.70 535.40)" text-anchor="end">2</text>
<text transform="matrix(1 0 0 1.1 409.70 544.87)" text-anchor="end">Favours [TEA]</text>
<text transform="matrix(1 0 0 1.1 415.70 544.87)">Favours [ORIF]</text>
</g>
</svg>
</body>
</html>
